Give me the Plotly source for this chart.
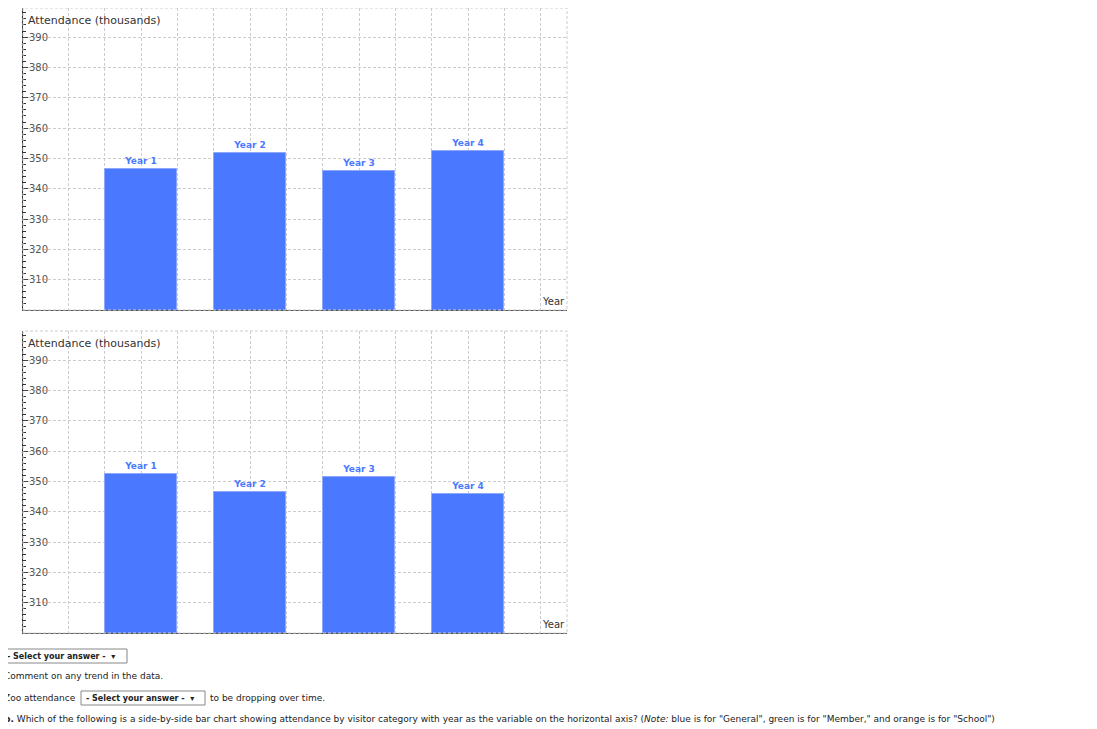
import plotly.graph_objects as go

years = ["Year 1", "Year 2", "Year 3", "Year 4"]
x_pos = [1, 2, 3, 4]
attendance_c = [346.6, 351.8, 345.9, 352.5]
attendance_d = [352.5, 346.6, 351.5, 345.9]
y_ticks = [310, 320, 330, 340, 350, 360, 370, 380, 390]

# page body adds an 8px margin, so the figure is drawn 8px in from the corner
OFF = 8
W, H = 1097 - OFF, 729 - OFF
blue = "#4a78ff"
grid = "#cccccc"
font = "Verdana, DejaVu Sans, sans-serif"


def px(x):
    return (x - OFF) / W


def py(y):
    return 1 - (y - OFF) / H


fig = go.Figure()

panels = [("C.", attendance_c, 8, 310, "", ""), ("D.", attendance_d, 331, 633, "2", "2")]
for letter, vals, top, bot, xs, ys in panels:
    fig.add_trace(go.Bar(x=x_pos, y=vals, width=0.66, marker=dict(color=blue, line=dict(color="#8fa8ff", width=1)),
                         text=["<b>" + t + "</b>" for t in years], textposition="outside", cliponaxis=False,
                         textfont=dict(color=blue, size=9, family=font),
                         xaxis="x" + xs, yaxis="y" + ys, hoverinfo="y"))
    dom_y = [max(0, py(bot)), min(1, py(top))]
    xa = dict(domain=[px(23), px(567)], range=[-0.083, 4.908], dtick=1 / 3, tick0=0,
              showgrid=True, gridcolor=grid, griddash="3px,2px", showticklabels=False, zeroline=False,
              showline=True, linecolor="#555", mirror=False, fixedrange=True)
    ya = dict(domain=dom_y, range=[300, 399.6], tickvals=y_ticks, ticks="inside", ticklen=5,
              ticklabelposition="inside", tickfont=dict(size=10, color="#555", family=font),
              showgrid=True, gridcolor=grid, griddash="3px,2px", zeroline=False,
              showline=True, linecolor="#333", linewidth=1,
              minor=dict(dtick=2, ticks="inside", ticklen=3, tickcolor="#333", showgrid=False))
    if xs:
        ya["anchor"] = "x2"
        xa["anchor"] = "y2"
    fig.layout["xaxis" + xs] = xa
    fig.layout["yaxis" + ys] = ya
    fig.add_shape(type="rect", xref="paper", yref="paper", x0=px(23), x1=px(567), y0=dom_y[0], y1=dom_y[1],
                  line=dict(color=grid, width=1, dash="3px,2px"))
    fig.add_annotation(x=px(2) - 0.006, y=py(top - 2), xref="paper", yref="paper", text=letter, showarrow=False,
                       xanchor="left", yanchor="top", font=dict(size=8, family=font, color="#222"))
    fig.add_annotation(x=px(26), y=py(top + 4), xref="paper", yref="paper", text="Attendance (thousands)",
                       showarrow=False, xanchor="left", yanchor="top", font=dict(size=11, family=font, color="#333"))
    fig.add_annotation(x=px(567), y=py(bot - 1), xref="paper", yref="paper", text="Year",
                       showarrow=False, xanchor="right", yanchor="bottom", font=dict(size=10, family=font, color="#333"))


def box(x0, x1, yc, label):
    fig.add_shape(type="rect", xref="paper", yref="paper", x0=px(x0), x1=px(x1),
                  y0=py(yc + 7), y1=py(yc - 7), line=dict(color="#888", width=1))
    fig.add_annotation(x=px(x0 + 3), y=py(yc), xref="paper", yref="paper", text="<b>" + label + "</b>",
                       showarrow=False, xanchor="left", yanchor="middle", font=dict(size=8, family=font, color="#222"))


def line(x, y, text):
    fig.add_annotation(x=px(x), y=py(y), xref="paper", yref="paper", text=text, showarrow=False,
                       xanchor="left", yanchor="middle", font=dict(size=9, family=font, color="#222"))


box(2, 127, 656, "- Select your answer -  ▾")
line(2, 676, "Comment on any trend in the data.")
line(2, 698, "Zoo attendance")
box(81, 205, 698, "- Select your answer -  ▾")
line(208, 698, "to be dropping over time.")
line(2, 719, "<b>b.</b> Which of the following is a side-by-side bar chart showing attendance by visitor category with year as the variable on the horizontal axis? "
             "(<i>Note:</i> blue is for \"General\", green is for \"Member,\" and orange is for \"School\")")

fig.update_layout(width=W, height=H, margin=dict(l=0, r=0, t=0, b=0), showlegend=False,
                  plot_bgcolor="white", paper_bgcolor="white", bargap=0)
fig.write_html("out.html")
